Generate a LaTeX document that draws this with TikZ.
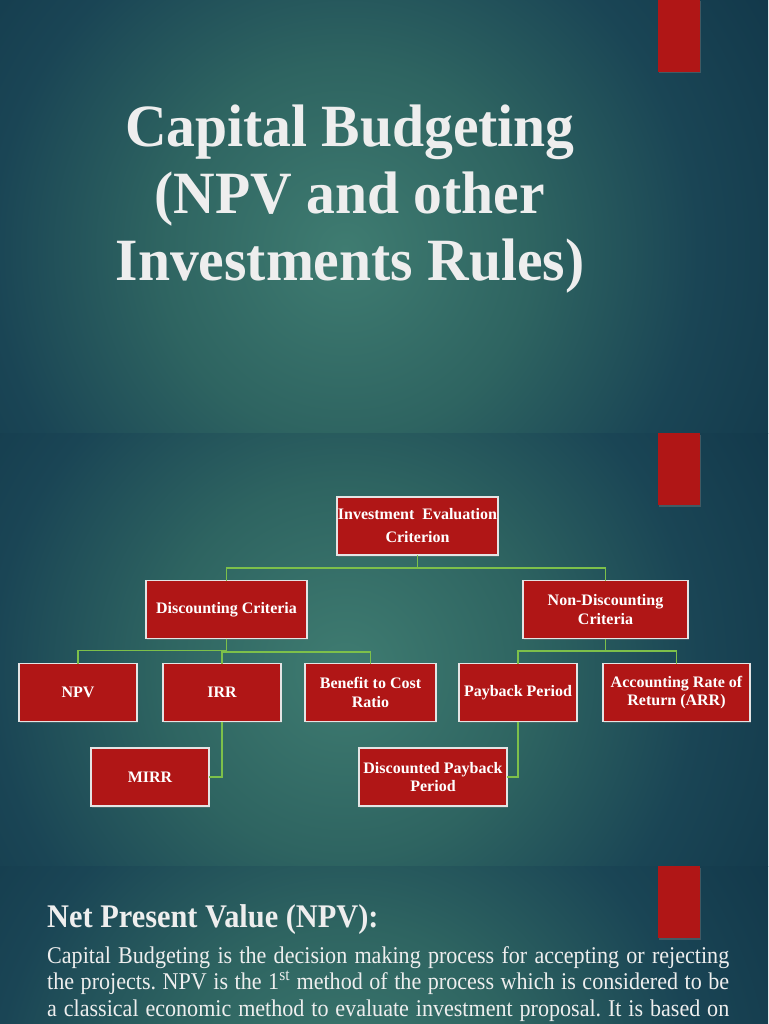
\documentclass[tikz,border=0pt]{standalone}
\usepackage{fontspec}
\setmainfont{Liberation Serif}
\newfontfamily\cbnarrow[FakeStretch=0.92]{Liberation Serif}
\newfontfamily\cbtall[FakeStretch=0.96]{Liberation Serif}
\usetikzlibrary{shadows}
\definecolor{cbred}   {HTML}{B01616}
\definecolor{cbrim}   {HTML}{E4E4E4}
\definecolor{cbgreen} {HTML}{7DC04A}
\definecolor{cbtext}  {HTML}{EEEEEE}
\definecolor{cbglow}  {HTML}{3F7C71}
\definecolor{cbmid}   {HTML}{2E6461}
\definecolor{cbdeep}  {HTML}{1A4555}
\definecolor{cbnight} {HTML}{12384A}
% the path fills the middle 50bp of the shading, so its rim sits at 25bp
\pgfdeclareradialshading{cbslide}{\pgfpoint{0bp}{0bp}}%
  {color(0bp)=(cbglow); color(9bp)=(cbmid); color(17bp)=(cbdeep); color(24bp)=(cbnight); color(50bp)=(cbnight)}
\tikzset{
  cbbox/.style={draw=cbrim, fill=cbred, line width=1.2pt, inner sep=0pt, outer sep=0pt,
                text=white, align=center, minimum height=58pt,
                font=\fontsize{16}{18.5}\selectfont\bfseries,
                drop shadow={shadow xshift=1pt, shadow yshift=-1.5pt, opacity=.35}},
  cblink/.style={draw=cbgreen, line width=1.1pt},
  cbtab/.style={fill=cbred, drop shadow={shadow xshift=0.5pt, shadow yshift=-1.5pt, opacity=.4}},
  cbtitle/.style={text=cbtext, align=center, inner sep=0pt,
                  font=\cbtall\fontsize{60}{67}\selectfont\bfseries},
  cbhead/.style={text=cbtext, inner sep=0pt, font=\cbnarrow\fontsize{33}{40}\selectfont\bfseries},
  cbbody/.style={text=cbtext, inner sep=0pt, text width=682pt, align=justify,
                 font=\cbnarrow\fontsize{24}{26.5}\selectfont},
}

\begin{document}
\begin{tikzpicture}[x=1pt,y=-1pt]
  \useasboundingbox (0,0) rectangle (768,1024);
  \clip (0,0) rectangle (768,1024);

  % three slides, each with its own glow
  \foreach \slidey/\glowy in {0/250,433/670,866/1110}{
    \begin{scope}
      \clip (0,\slidey) rectangle (768,\slidey+433);
      \fill[cbnight] (0,\slidey) rectangle (768,\slidey+433);
      \shade[shading=cbslide] (345,\glowy) circle (520pt);
    \end{scope}
  }
  \foreach \slidey in {0,433,866}
    {\fill[cbtab] (658,\slidey) rectangle (700,\slidey+72);}

  \node[cbtitle] (title) at (350,199)
    {Capital Budgeting\\(NPV and other\\Investments Rules)};

  % criteria tree
  \node[cbbox, minimum width=161pt, font=\fontsize{16}{23}\selectfont\bfseries]
    (crit) at (417.5,526) {Investment\ \ Evaluation\\Criterion};
  \node[cbbox, minimum width=161pt] (disc)     at (226.5,609.5) {Discounting Criteria};
  \node[cbbox, minimum width=165pt] (nondisc)  at (605.5,609.5) {Non-Discounting\\Criteria};
  \node[cbbox, minimum width=118pt] (npv)      at (78,692.5)    {NPV};
  \node[cbbox, minimum width=118pt] (irr)      at (222,692.5)   {IRR};
  \node[cbbox, minimum width=131pt] (bcr)      at (370.5,692.5) {Benefit to Cost\\Ratio};
  \node[cbbox, minimum width=118pt] (payback)  at (518,692.5)   {Payback Period};
  \node[cbbox, minimum width=147pt] (arr)      at (676.5,692.5) {Accounting Rate of\\Return (ARR)};
  \node[cbbox, minimum width=118pt] (mirr)     at (150,777)     {MIRR};
  \node[cbbox, minimum width=148pt] (dpayback) at (433,777)     {Discounted Payback\\Period};

  \foreach \kid in {disc,nondisc}
    {\draw[cblink] (crit.south) -- ++(0,13) -| (\kid.north);}
  \draw[cblink] (disc.south) -- ++(0,12) -| (npv.north);
  \foreach \kid in {irr,bcr}
    {\draw[cblink] (disc.south) -- ++(0,13.5) -| (\kid.north);}
  \foreach \kid in {payback,arr}
    {\draw[cblink] (nondisc.south) -- ++(0,12.5) -| (\kid.north);}
  \draw[cblink] (irr.south) |- (mirr.east);
  \draw[cblink] (payback.south) |- (dpayback.east);

  % third slide
  \node[cbhead, anchor=base west] (npvhead) at (47,927) {Net Present Value (NPV):};
  \node[cbbody, anchor=north west] (npvtext) at (47,946)
    {\noindent\frenchspacing\parfillskip=0pt
     Capital Budgeting is the decision making process for accepting or rejecting\linebreak
     the projects. NPV is the 1\textsuperscript{st} method of the process which is considered to be\linebreak
     a classical economic method to evaluate investment proposal. It is based on\par};
\end{tikzpicture}
\end{document}
